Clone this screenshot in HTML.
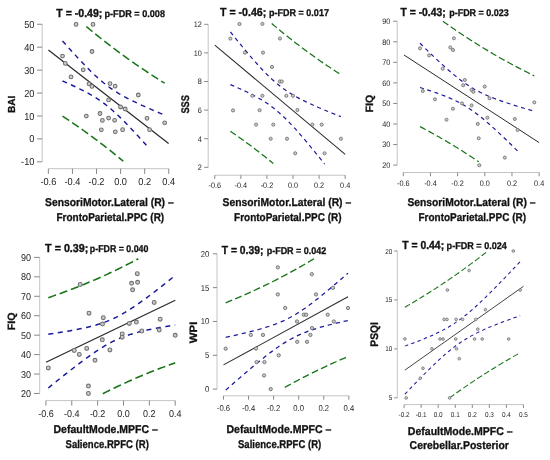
<!DOCTYPE html><html><head><meta charset="utf-8"><style>html,body{margin:0;padding:0;background:#fff;}svg{display:block;text-rendering:geometricPrecision;filter:blur(0.3px);}</style></head><body>
<svg width="550" height="460" viewBox="0 0 550 460" font-family="'Liberation Sans', Arial, sans-serif">
<rect width="550" height="460" fill="#fff"/>
<path d="M42.20 24.25 V161.83" stroke="#c4c4c4" stroke-width="1.00" fill="none"/>
<path d="M37.00 24.25 H42.20" stroke="#888888" stroke-width="1.00"/>
<text x="24.17" y="27.84" font-size="10.12" fill="#262626" textLength="10.23" lengthAdjust="spacingAndGlyphs">50</text>
<path d="M37.00 47.18 H42.20" stroke="#888888" stroke-width="1.00"/>
<text x="24.17" y="50.77" font-size="10.12" fill="#262626" textLength="10.23" lengthAdjust="spacingAndGlyphs">40</text>
<path d="M37.00 70.11 H42.20" stroke="#888888" stroke-width="1.00"/>
<text x="24.17" y="73.70" font-size="10.12" fill="#262626" textLength="10.23" lengthAdjust="spacingAndGlyphs">30</text>
<path d="M37.00 93.04 H42.20" stroke="#888888" stroke-width="1.00"/>
<text x="24.17" y="96.63" font-size="10.12" fill="#262626" textLength="10.23" lengthAdjust="spacingAndGlyphs">20</text>
<path d="M37.00 115.97 H42.20" stroke="#888888" stroke-width="1.00"/>
<text x="24.17" y="119.56" font-size="10.12" fill="#262626" textLength="10.23" lengthAdjust="spacingAndGlyphs">10</text>
<path d="M37.00 138.90 H42.20" stroke="#888888" stroke-width="1.00"/>
<text x="29.28" y="142.49" font-size="10.12" fill="#262626" textLength="5.12" lengthAdjust="spacingAndGlyphs">0</text>
<path d="M37.00 161.83 H42.20" stroke="#888888" stroke-width="1.00"/>
<text x="21.11" y="165.42" font-size="10.12" fill="#262626" textLength="13.29" lengthAdjust="spacingAndGlyphs">-10</text>
<path d="M48.36 168.70 H168.76" stroke="#c4c4c4" stroke-width="1.00" fill="none"/>
<path d="M48.36 168.70 V173.90" stroke="#888888" stroke-width="1.00"/>
<text x="40.43" y="184.80" font-size="10.12" fill="#262626" textLength="15.85" lengthAdjust="spacingAndGlyphs">-0.6</text>
<path d="M72.44 168.70 V173.90" stroke="#888888" stroke-width="1.00"/>
<text x="64.51" y="184.80" font-size="10.12" fill="#262626" textLength="15.85" lengthAdjust="spacingAndGlyphs">-0.4</text>
<path d="M96.52 168.70 V173.90" stroke="#888888" stroke-width="1.00"/>
<text x="88.59" y="184.80" font-size="10.12" fill="#262626" textLength="15.85" lengthAdjust="spacingAndGlyphs">-0.2</text>
<path d="M120.60 168.70 V173.90" stroke="#888888" stroke-width="1.00"/>
<text x="114.21" y="184.80" font-size="10.12" fill="#262626" textLength="12.79" lengthAdjust="spacingAndGlyphs">0.0</text>
<path d="M144.68 168.70 V173.90" stroke="#888888" stroke-width="1.00"/>
<text x="138.29" y="184.80" font-size="10.12" fill="#262626" textLength="12.79" lengthAdjust="spacingAndGlyphs">0.2</text>
<path d="M168.76 168.70 V173.90" stroke="#888888" stroke-width="1.00"/>
<text x="162.37" y="184.80" font-size="10.12" fill="#262626" textLength="12.79" lengthAdjust="spacingAndGlyphs">0.4</text>
<path d="M62.50 40.96 L65.06 43.83 L67.62 46.68 L70.18 49.52 L72.75 52.33 L75.31 55.13 L77.87 57.89 L80.43 60.63 L82.99 63.33 L85.55 65.98 L88.11 68.59 L90.68 71.14 L93.24 73.63 L95.80 76.04 L98.36 78.37 L100.92 80.61 L103.48 82.76 L106.04 84.80 L108.61 86.74 L111.17 88.57 L113.73 90.32 L116.29 91.97 L118.85 93.54 L121.41 95.03 L123.97 96.46 L126.54 97.84 L129.10 99.17 L131.66 100.46 L134.22 101.71 L136.78 102.93 L139.34 104.12 L141.90 105.29 L144.46 106.44 L147.03 107.58 L149.59 108.70 L152.15 109.80 L154.71 110.90 L157.27 111.98 L159.83 113.06 L162.39 114.13 L164.70 115.08" stroke="#1a1a9c" stroke-width="1.45" fill="none" stroke-dasharray="4.87 4.41"/>
<path d="M62.50 81.00 L64.62 81.93 L66.75 82.87 L68.87 83.81 L70.99 84.78 L73.11 85.75 L75.24 86.75 L77.36 87.76 L79.48 88.79 L81.61 89.84 L83.73 90.92 L85.85 92.04 L87.97 93.18 L90.10 94.37 L92.22 95.59 L94.34 96.87 L96.46 98.20 L98.59 99.59 L100.71 101.04 L102.83 102.55 L104.96 104.14 L107.08 105.79 L109.20 107.52 L111.32 109.31 L113.45 111.18 L115.57 113.10 L117.69 115.08 L119.82 117.12 L121.94 119.20 L124.06 121.32 L126.18 123.49 L128.31 125.68 L130.43 127.91 L132.55 130.16 L134.68 132.44 L136.80 134.74 L138.92 137.05 L141.04 139.38 L143.17 141.73 L145.29 144.09 L147.20 146.22" stroke="#1a1a9c" stroke-width="1.45" fill="none" stroke-dasharray="4.87 4.41"/>
<path d="M86.30 26.51 L88.26 28.15 L90.23 29.78 L92.19 31.39 L94.16 33.00 L96.12 34.59 L98.09 36.18 L100.05 37.75 L102.02 39.31 L103.98 40.85 L105.95 42.39 L107.91 43.91 L109.88 45.43 L111.84 46.93 L113.81 48.42 L115.77 49.89 L117.74 51.36 L119.70 52.81 L121.67 54.26 L123.63 55.69 L125.60 57.11 L127.56 58.52 L129.53 59.91 L131.49 61.30 L133.46 62.68 L135.42 64.04 L137.39 65.39 L139.35 66.74 L141.32 68.07 L143.28 69.39 L145.25 70.70 L147.21 72.00 L149.18 73.30 L151.14 74.58 L153.11 75.85 L155.07 77.11 L157.04 78.36 L159.00 79.60 L160.97 80.84 L162.93 82.06 L164.70 83.15" stroke="#187418" stroke-width="1.51" fill="none" stroke-dasharray="7.89 3.71"/>
<path d="M62.50 116.18 L64.02 117.18 L65.55 118.19 L67.07 119.20 L68.60 120.22 L70.12 121.24 L71.64 122.27 L73.17 123.31 L74.69 124.35 L76.21 125.40 L77.74 126.46 L79.26 127.52 L80.79 128.59 L82.31 129.67 L83.83 130.75 L85.36 131.84 L86.88 132.94 L88.40 134.04 L89.93 135.15 L91.45 136.27 L92.98 137.39 L94.50 138.52 L96.02 139.66 L97.55 140.80 L99.07 141.95 L100.60 143.11 L102.12 144.28 L103.64 145.45 L105.17 146.63 L106.69 147.82 L108.21 149.01 L109.74 150.21 L111.26 151.42 L112.79 152.63 L114.31 153.85 L115.83 155.08 L117.36 156.32 L118.88 157.56 L120.40 158.81 L121.93 160.07 L123.30 161.20" stroke="#187418" stroke-width="1.51" fill="none" stroke-dasharray="7.89 3.71"/>
<path d="M48.40 50.00 L168.60 143.60" stroke="#2a2a2a" stroke-width="1.22"/>
<circle cx="76.10" cy="24.40" r="1.88" fill="#cbcbcb" stroke="#707070" stroke-width="1.04"/>
<circle cx="93.00" cy="24.40" r="1.88" fill="#cbcbcb" stroke="#707070" stroke-width="1.04"/>
<circle cx="92.00" cy="51.50" r="1.88" fill="#cbcbcb" stroke="#707070" stroke-width="1.04"/>
<circle cx="62.50" cy="56.10" r="1.88" fill="#cbcbcb" stroke="#707070" stroke-width="1.04"/>
<circle cx="65.30" cy="63.40" r="1.88" fill="#cbcbcb" stroke="#707070" stroke-width="1.04"/>
<circle cx="83.20" cy="69.80" r="1.88" fill="#cbcbcb" stroke="#707070" stroke-width="1.04"/>
<circle cx="71.00" cy="76.90" r="1.88" fill="#cbcbcb" stroke="#707070" stroke-width="1.04"/>
<circle cx="89.00" cy="83.80" r="1.88" fill="#cbcbcb" stroke="#707070" stroke-width="1.04"/>
<circle cx="92.00" cy="86.40" r="1.88" fill="#cbcbcb" stroke="#707070" stroke-width="1.04"/>
<circle cx="110.00" cy="83.60" r="1.88" fill="#cbcbcb" stroke="#707070" stroke-width="1.04"/>
<circle cx="115.10" cy="86.20" r="1.88" fill="#cbcbcb" stroke="#707070" stroke-width="1.04"/>
<circle cx="138.30" cy="95.00" r="1.88" fill="#cbcbcb" stroke="#707070" stroke-width="1.04"/>
<circle cx="108.60" cy="99.90" r="1.88" fill="#cbcbcb" stroke="#707070" stroke-width="1.04"/>
<circle cx="120.50" cy="107.00" r="1.88" fill="#cbcbcb" stroke="#707070" stroke-width="1.04"/>
<circle cx="125.20" cy="109.00" r="1.88" fill="#cbcbcb" stroke="#707070" stroke-width="1.04"/>
<circle cx="147.00" cy="118.30" r="1.88" fill="#cbcbcb" stroke="#707070" stroke-width="1.04"/>
<circle cx="164.70" cy="122.80" r="1.88" fill="#cbcbcb" stroke="#707070" stroke-width="1.04"/>
<circle cx="86.30" cy="116.10" r="1.88" fill="#cbcbcb" stroke="#707070" stroke-width="1.04"/>
<circle cx="100.00" cy="113.50" r="1.88" fill="#cbcbcb" stroke="#707070" stroke-width="1.04"/>
<circle cx="102.40" cy="120.40" r="1.88" fill="#cbcbcb" stroke="#707070" stroke-width="1.04"/>
<circle cx="108.60" cy="118.10" r="1.88" fill="#cbcbcb" stroke="#707070" stroke-width="1.04"/>
<circle cx="114.60" cy="120.30" r="1.88" fill="#cbcbcb" stroke="#707070" stroke-width="1.04"/>
<circle cx="101.30" cy="129.80" r="1.88" fill="#cbcbcb" stroke="#707070" stroke-width="1.04"/>
<circle cx="115.30" cy="131.80" r="1.88" fill="#cbcbcb" stroke="#707070" stroke-width="1.04"/>
<circle cx="122.60" cy="129.70" r="1.88" fill="#cbcbcb" stroke="#707070" stroke-width="1.04"/>
<circle cx="149.60" cy="129.70" r="1.88" fill="#cbcbcb" stroke="#707070" stroke-width="1.04"/>
<text x="56.30" y="16.50" font-size="11.60" font-weight="bold" fill="#111" stroke="#111" stroke-width="0.35" textLength="46.10" lengthAdjust="spacingAndGlyphs">T = -0.49;</text>
<text x="104.50" y="16.50" font-size="9.80" font-weight="bold" fill="#111" stroke="#111" stroke-width="0.3" textLength="60.50" lengthAdjust="spacingAndGlyphs">p-FDR = 0.008</text>
<text transform="translate(14.90 113.00) rotate(-90)" font-size="10.20" font-weight="bold" fill="#111" stroke="#111" stroke-width="0.3" textLength="17.40" lengthAdjust="spacingAndGlyphs">BAI</text>
<text x="45.00" y="206.20" font-size="11.30" font-weight="bold" fill="#111" stroke="#111" stroke-width="0.3" textLength="128.70" lengthAdjust="spacingAndGlyphs">SensoriMotor.Lateral (R) –</text>
<text x="56.50" y="220.50" font-size="11.30" font-weight="bold" fill="#111" stroke="#111" stroke-width="0.3" textLength="107.70" lengthAdjust="spacingAndGlyphs">FrontoParietal.PPC (R)</text>
<path d="M208.20 24.30 V167.30" stroke="#c4c4c4" stroke-width="1.00" fill="none"/>
<path d="M204.20 24.30 H208.20" stroke="#888888" stroke-width="1.00"/>
<text x="193.78" y="27.15" font-size="8.03" fill="#262626" textLength="8.12" lengthAdjust="spacingAndGlyphs">12</text>
<path d="M204.20 52.90 H208.20" stroke="#888888" stroke-width="1.00"/>
<text x="193.78" y="55.75" font-size="8.03" fill="#262626" textLength="8.12" lengthAdjust="spacingAndGlyphs">10</text>
<path d="M204.20 81.50 H208.20" stroke="#888888" stroke-width="1.00"/>
<text x="197.84" y="84.35" font-size="8.03" fill="#262626" textLength="4.06" lengthAdjust="spacingAndGlyphs">8</text>
<path d="M204.20 110.10 H208.20" stroke="#888888" stroke-width="1.00"/>
<text x="197.84" y="112.95" font-size="8.03" fill="#262626" textLength="4.06" lengthAdjust="spacingAndGlyphs">6</text>
<path d="M204.20 138.70 H208.20" stroke="#888888" stroke-width="1.00"/>
<text x="197.84" y="141.55" font-size="8.03" fill="#262626" textLength="4.06" lengthAdjust="spacingAndGlyphs">4</text>
<path d="M204.20 167.30 H208.20" stroke="#888888" stroke-width="1.00"/>
<text x="197.84" y="170.15" font-size="8.03" fill="#262626" textLength="4.06" lengthAdjust="spacingAndGlyphs">2</text>
<path d="M214.76 175.20 H345.16" stroke="#c4c4c4" stroke-width="1.00" fill="none"/>
<path d="M214.76 175.20 V178.90" stroke="#888888" stroke-width="1.00"/>
<text x="208.47" y="187.60" font-size="8.03" fill="#262626" textLength="12.58" lengthAdjust="spacingAndGlyphs">-0.6</text>
<path d="M240.84 175.20 V178.90" stroke="#888888" stroke-width="1.00"/>
<text x="234.55" y="187.60" font-size="8.03" fill="#262626" textLength="12.58" lengthAdjust="spacingAndGlyphs">-0.4</text>
<path d="M266.92 175.20 V178.90" stroke="#888888" stroke-width="1.00"/>
<text x="260.63" y="187.60" font-size="8.03" fill="#262626" textLength="12.58" lengthAdjust="spacingAndGlyphs">-0.2</text>
<path d="M293.00 175.20 V178.90" stroke="#888888" stroke-width="1.00"/>
<text x="287.93" y="187.60" font-size="8.03" fill="#262626" textLength="10.15" lengthAdjust="spacingAndGlyphs">0.0</text>
<path d="M319.08 175.20 V178.90" stroke="#888888" stroke-width="1.00"/>
<text x="314.01" y="187.60" font-size="8.03" fill="#262626" textLength="10.15" lengthAdjust="spacingAndGlyphs">0.2</text>
<path d="M345.16 175.20 V178.90" stroke="#888888" stroke-width="1.00"/>
<text x="340.09" y="187.60" font-size="8.03" fill="#262626" textLength="10.15" lengthAdjust="spacingAndGlyphs">0.4</text>
<path d="M230.40 31.85 L233.17 35.32 L235.94 38.76 L238.71 42.18 L241.48 45.58 L244.25 48.94 L247.02 52.26 L249.79 55.54 L252.56 58.77 L255.32 61.94 L258.09 65.05 L260.86 68.08 L263.63 71.02 L266.40 73.86 L269.17 76.60 L271.94 79.21 L274.71 81.69 L277.48 84.04 L280.25 86.26 L283.02 88.35 L285.79 90.31 L288.56 92.15 L291.33 93.89 L294.10 95.54 L296.87 97.11 L299.64 98.60 L302.41 100.03 L305.17 101.41 L307.94 102.74 L310.71 104.03 L313.48 105.29 L316.25 106.52 L319.02 107.72 L321.79 108.90 L324.56 110.05 L327.33 111.20 L330.10 112.32 L332.87 113.44 L335.64 114.54 L338.41 115.63 L340.90 116.60" stroke="#1a1a9c" stroke-width="1.21" fill="none" stroke-dasharray="4.07 3.69"/>
<path d="M230.40 84.65 L232.76 85.65 L235.12 86.66 L237.48 87.68 L239.84 88.73 L242.20 89.80 L244.57 90.89 L246.93 92.01 L249.29 93.15 L251.65 94.34 L254.01 95.56 L256.37 96.83 L258.73 98.16 L261.09 99.53 L263.45 100.98 L265.81 102.49 L268.17 104.09 L270.54 105.76 L272.90 107.53 L275.26 109.40 L277.62 111.36 L279.98 113.42 L282.34 115.57 L284.70 117.81 L287.06 120.15 L289.42 122.56 L291.78 125.05 L294.14 127.60 L296.51 130.21 L298.87 132.88 L301.23 135.59 L303.59 138.34 L305.95 141.14 L308.31 143.96 L310.67 146.81 L313.03 149.69 L315.39 152.59 L317.75 155.50 L320.11 158.44 L322.48 161.39 L324.60 164.06" stroke="#1a1a9c" stroke-width="1.21" fill="none" stroke-dasharray="4.07 3.69"/>
<path d="M271.70 23.44 L273.43 24.92 L275.17 26.38 L276.90 27.84 L278.64 29.28 L280.37 30.72 L282.11 32.14 L283.84 33.56 L285.57 34.96 L287.31 36.35 L289.04 37.74 L290.78 39.11 L292.51 40.47 L294.25 41.83 L295.98 43.17 L297.72 44.50 L299.45 45.83 L301.18 47.14 L302.92 48.44 L304.65 49.73 L306.39 51.02 L308.12 52.29 L309.86 53.56 L311.59 54.81 L313.32 56.06 L315.06 57.29 L316.79 58.52 L318.53 59.73 L320.26 60.94 L322.00 62.14 L323.73 63.33 L325.46 64.51 L327.20 65.69 L328.93 66.85 L330.67 68.01 L332.40 69.15 L334.14 70.29 L335.87 71.42 L337.60 72.54 L339.34 73.66 L340.90 74.65" stroke="#187418" stroke-width="1.26" fill="none" stroke-dasharray="6.60 3.10"/>
<path d="M230.40 131.17 L231.48 131.91 L232.55 132.65 L233.63 133.40 L234.70 134.15 L235.78 134.90 L236.85 135.66 L237.93 136.42 L239.00 137.18 L240.08 137.95 L241.15 138.72 L242.23 139.49 L243.30 140.27 L244.38 141.05 L245.45 141.83 L246.53 142.62 L247.60 143.41 L248.68 144.21 L249.75 145.01 L250.83 145.81 L251.90 146.62 L252.98 147.43 L254.05 148.25 L255.13 149.06 L256.20 149.89 L257.28 150.71 L258.35 151.54 L259.43 152.38 L260.51 153.21 L261.58 154.06 L262.66 154.90 L263.73 155.75 L264.81 156.61 L265.88 157.46 L266.96 158.32 L268.03 159.19 L269.11 160.06 L270.18 160.93 L271.26 161.81 L272.33 162.69 L273.30 163.49" stroke="#187418" stroke-width="1.26" fill="none" stroke-dasharray="6.60 3.10"/>
<path d="M214.80 45.20 L345.20 154.30" stroke="#2a2a2a" stroke-width="1.02"/>
<circle cx="239.50" cy="24.00" r="1.57" fill="#cbcbcb" stroke="#707070" stroke-width="0.87"/>
<circle cx="262.40" cy="23.90" r="1.57" fill="#cbcbcb" stroke="#707070" stroke-width="0.87"/>
<circle cx="230.40" cy="38.60" r="1.57" fill="#cbcbcb" stroke="#707070" stroke-width="0.87"/>
<circle cx="280.00" cy="38.50" r="1.57" fill="#cbcbcb" stroke="#707070" stroke-width="0.87"/>
<circle cx="244.90" cy="52.70" r="1.57" fill="#cbcbcb" stroke="#707070" stroke-width="0.87"/>
<circle cx="263.00" cy="52.60" r="1.57" fill="#cbcbcb" stroke="#707070" stroke-width="0.87"/>
<circle cx="272.00" cy="67.00" r="1.57" fill="#cbcbcb" stroke="#707070" stroke-width="0.87"/>
<circle cx="279.80" cy="81.50" r="1.57" fill="#cbcbcb" stroke="#707070" stroke-width="0.87"/>
<circle cx="281.80" cy="81.50" r="1.57" fill="#cbcbcb" stroke="#707070" stroke-width="0.87"/>
<circle cx="252.40" cy="95.80" r="1.57" fill="#cbcbcb" stroke="#707070" stroke-width="0.87"/>
<circle cx="262.40" cy="95.80" r="1.57" fill="#cbcbcb" stroke="#707070" stroke-width="0.87"/>
<circle cx="286.30" cy="95.80" r="1.57" fill="#cbcbcb" stroke="#707070" stroke-width="0.87"/>
<circle cx="293.00" cy="95.80" r="1.57" fill="#cbcbcb" stroke="#707070" stroke-width="0.87"/>
<circle cx="233.00" cy="110.40" r="1.57" fill="#cbcbcb" stroke="#707070" stroke-width="0.87"/>
<circle cx="259.60" cy="110.20" r="1.57" fill="#cbcbcb" stroke="#707070" stroke-width="0.87"/>
<circle cx="297.40" cy="110.00" r="1.57" fill="#cbcbcb" stroke="#707070" stroke-width="0.87"/>
<circle cx="256.10" cy="124.60" r="1.57" fill="#cbcbcb" stroke="#707070" stroke-width="0.87"/>
<circle cx="273.30" cy="124.60" r="1.57" fill="#cbcbcb" stroke="#707070" stroke-width="0.87"/>
<circle cx="312.40" cy="124.60" r="1.57" fill="#cbcbcb" stroke="#707070" stroke-width="0.87"/>
<circle cx="321.70" cy="124.60" r="1.57" fill="#cbcbcb" stroke="#707070" stroke-width="0.87"/>
<circle cx="270.70" cy="138.70" r="1.57" fill="#cbcbcb" stroke="#707070" stroke-width="0.87"/>
<circle cx="287.00" cy="138.70" r="1.57" fill="#cbcbcb" stroke="#707070" stroke-width="0.87"/>
<circle cx="340.90" cy="138.70" r="1.57" fill="#cbcbcb" stroke="#707070" stroke-width="0.87"/>
<circle cx="295.20" cy="153.30" r="1.57" fill="#cbcbcb" stroke="#707070" stroke-width="0.87"/>
<circle cx="324.60" cy="153.30" r="1.57" fill="#cbcbcb" stroke="#707070" stroke-width="0.87"/>
<text x="220.00" y="15.70" font-size="11.60" font-weight="bold" fill="#111" stroke="#111" stroke-width="0.35" textLength="46.30" lengthAdjust="spacingAndGlyphs">T = -0.46;</text>
<text x="269.10" y="15.70" font-size="9.80" font-weight="bold" fill="#111" stroke="#111" stroke-width="0.3" textLength="59.80" lengthAdjust="spacingAndGlyphs">p-FDR = 0.017</text>
<text transform="translate(188.70 113.60) rotate(-90)" font-size="11.00" font-weight="bold" fill="#111" stroke="#111" stroke-width="0.3" textLength="18.50" lengthAdjust="spacingAndGlyphs">SSS</text>
<text x="222.60" y="206.00" font-size="11.30" font-weight="bold" fill="#111" stroke="#111" stroke-width="0.3" textLength="128.60" lengthAdjust="spacingAndGlyphs">SensoriMotor.Lateral (R) –</text>
<text x="234.10" y="220.50" font-size="11.30" font-weight="bold" fill="#111" stroke="#111" stroke-width="0.3" textLength="107.40" lengthAdjust="spacingAndGlyphs">FrontoParietal.PPC (R)</text>
<path d="M397.20 21.20 V165.12" stroke="#c4c4c4" stroke-width="1.00" fill="none"/>
<path d="M393.20 21.20 H397.20" stroke="#888888" stroke-width="1.00"/>
<text x="382.28" y="24.05" font-size="8.03" fill="#262626" textLength="8.12" lengthAdjust="spacingAndGlyphs">90</text>
<path d="M393.20 41.76 H397.20" stroke="#888888" stroke-width="1.00"/>
<text x="382.28" y="44.61" font-size="8.03" fill="#262626" textLength="8.12" lengthAdjust="spacingAndGlyphs">80</text>
<path d="M393.20 62.32 H397.20" stroke="#888888" stroke-width="1.00"/>
<text x="382.28" y="65.17" font-size="8.03" fill="#262626" textLength="8.12" lengthAdjust="spacingAndGlyphs">70</text>
<path d="M393.20 82.88 H397.20" stroke="#888888" stroke-width="1.00"/>
<text x="382.28" y="85.73" font-size="8.03" fill="#262626" textLength="8.12" lengthAdjust="spacingAndGlyphs">60</text>
<path d="M393.20 103.44 H397.20" stroke="#888888" stroke-width="1.00"/>
<text x="382.28" y="106.29" font-size="8.03" fill="#262626" textLength="8.12" lengthAdjust="spacingAndGlyphs">50</text>
<path d="M393.20 124.00 H397.20" stroke="#888888" stroke-width="1.00"/>
<text x="382.28" y="126.85" font-size="8.03" fill="#262626" textLength="8.12" lengthAdjust="spacingAndGlyphs">40</text>
<path d="M393.20 144.56 H397.20" stroke="#888888" stroke-width="1.00"/>
<text x="382.28" y="147.41" font-size="8.03" fill="#262626" textLength="8.12" lengthAdjust="spacingAndGlyphs">30</text>
<path d="M393.20 165.12 H397.20" stroke="#888888" stroke-width="1.00"/>
<text x="382.28" y="167.97" font-size="8.03" fill="#262626" textLength="8.12" lengthAdjust="spacingAndGlyphs">20</text>
<path d="M403.32 172.50 H539.12" stroke="#c4c4c4" stroke-width="1.00" fill="none"/>
<path d="M403.32 172.50 V176.20" stroke="#888888" stroke-width="1.00"/>
<text x="397.03" y="185.50" font-size="8.03" fill="#262626" textLength="12.58" lengthAdjust="spacingAndGlyphs">-0.6</text>
<path d="M430.48 172.50 V176.20" stroke="#888888" stroke-width="1.00"/>
<text x="424.19" y="185.50" font-size="8.03" fill="#262626" textLength="12.58" lengthAdjust="spacingAndGlyphs">-0.4</text>
<path d="M457.64 172.50 V176.20" stroke="#888888" stroke-width="1.00"/>
<text x="451.35" y="185.50" font-size="8.03" fill="#262626" textLength="12.58" lengthAdjust="spacingAndGlyphs">-0.2</text>
<path d="M484.80 172.50 V176.20" stroke="#888888" stroke-width="1.00"/>
<text x="479.73" y="185.50" font-size="8.03" fill="#262626" textLength="10.15" lengthAdjust="spacingAndGlyphs">0.0</text>
<path d="M511.96 172.50 V176.20" stroke="#888888" stroke-width="1.00"/>
<text x="506.89" y="185.50" font-size="8.03" fill="#262626" textLength="10.15" lengthAdjust="spacingAndGlyphs">0.2</text>
<path d="M539.12 172.50 V176.20" stroke="#888888" stroke-width="1.00"/>
<text x="534.05" y="185.50" font-size="8.03" fill="#262626" textLength="10.15" lengthAdjust="spacingAndGlyphs">0.4</text>
<path d="M420.00 43.23 L422.86 46.05 L425.73 48.86 L428.59 51.64 L431.46 54.41 L434.32 57.15 L437.19 59.86 L440.05 62.53 L442.92 65.17 L445.78 67.76 L448.65 70.29 L451.51 72.76 L454.38 75.16 L457.24 77.48 L460.11 79.71 L462.97 81.83 L465.83 83.85 L468.70 85.76 L471.56 87.55 L474.43 89.24 L477.29 90.81 L480.16 92.29 L483.02 93.68 L485.89 94.98 L488.75 96.22 L491.62 97.39 L494.48 98.51 L497.35 99.59 L500.21 100.62 L503.08 101.62 L505.94 102.59 L508.80 103.54 L511.67 104.47 L514.53 105.37 L517.40 106.26 L520.26 107.14 L523.13 108.00 L525.99 108.85 L528.86 109.69 L531.72 110.53 L534.30 111.27" stroke="#1a1a9c" stroke-width="1.19" fill="none" stroke-dasharray="3.99 3.61"/>
<path d="M420.00 87.52 L422.45 88.28 L424.89 89.06 L427.34 89.84 L429.78 90.64 L432.23 91.46 L434.68 92.30 L437.12 93.16 L439.57 94.04 L442.02 94.96 L444.46 95.90 L446.91 96.88 L449.35 97.91 L451.80 98.98 L454.25 100.10 L456.69 101.29 L459.14 102.54 L461.58 103.86 L464.03 105.25 L466.48 106.73 L468.92 108.29 L471.37 109.93 L473.81 111.65 L476.26 113.45 L478.71 115.33 L481.15 117.27 L483.60 119.28 L486.05 121.35 L488.49 123.46 L490.94 125.62 L493.38 127.83 L495.83 130.06 L498.28 132.33 L500.72 134.63 L503.17 136.95 L505.61 139.29 L508.06 141.65 L510.51 144.03 L512.95 146.42 L515.40 148.82 L517.60 150.99" stroke="#1a1a9c" stroke-width="1.19" fill="none" stroke-dasharray="3.99 3.61"/>
<path d="M443.00 21.27 L445.29 22.90 L447.58 24.52 L449.86 26.13 L452.15 27.72 L454.44 29.29 L456.73 30.85 L459.02 32.40 L461.31 33.94 L463.59 35.46 L465.88 36.96 L468.17 38.46 L470.46 39.94 L472.75 41.40 L475.04 42.85 L477.32 44.29 L479.61 45.71 L481.90 47.12 L484.19 48.52 L486.48 49.90 L488.76 51.27 L491.05 52.62 L493.34 53.96 L495.63 55.29 L497.92 56.61 L500.21 57.91 L502.49 59.19 L504.78 60.47 L507.07 61.73 L509.36 62.98 L511.65 64.22 L513.93 65.44 L516.22 66.66 L518.51 67.86 L520.80 69.05 L523.09 70.22 L525.38 71.39 L527.66 72.54 L529.95 73.69 L532.24 74.82 L534.30 75.83" stroke="#187418" stroke-width="1.23" fill="none" stroke-dasharray="6.46 3.04"/>
<path d="M420.00 126.59 L421.47 127.36 L422.95 128.14 L424.42 128.93 L425.89 129.72 L427.37 130.52 L428.84 131.32 L430.32 132.13 L431.79 132.94 L433.26 133.76 L434.74 134.58 L436.21 135.41 L437.68 136.25 L439.16 137.09 L440.63 137.93 L442.11 138.78 L443.58 139.64 L445.05 140.50 L446.53 141.37 L448.00 142.24 L449.47 143.12 L450.95 144.00 L452.42 144.89 L453.89 145.79 L455.37 146.69 L456.84 147.60 L458.32 148.51 L459.79 149.43 L461.26 150.35 L462.74 151.28 L464.21 152.22 L465.68 153.16 L467.16 154.11 L468.63 155.06 L470.11 156.02 L471.58 156.98 L473.05 157.95 L474.53 158.93 L476.00 159.91 L477.47 160.90 L478.80 161.79" stroke="#187418" stroke-width="1.23" fill="none" stroke-dasharray="6.46 3.04"/>
<path d="M404.00 55.00 L539.10 142.60" stroke="#2a2a2a" stroke-width="1.00"/>
<circle cx="420.00" cy="48.30" r="1.54" fill="#cbcbcb" stroke="#707070" stroke-width="0.85"/>
<circle cx="429.10" cy="55.40" r="1.54" fill="#cbcbcb" stroke="#707070" stroke-width="0.85"/>
<circle cx="453.90" cy="38.30" r="1.54" fill="#cbcbcb" stroke="#707070" stroke-width="0.85"/>
<circle cx="450.30" cy="47.40" r="1.54" fill="#cbcbcb" stroke="#707070" stroke-width="0.85"/>
<circle cx="453.00" cy="50.00" r="1.54" fill="#cbcbcb" stroke="#707070" stroke-width="0.85"/>
<circle cx="442.70" cy="68.70" r="1.54" fill="#cbcbcb" stroke="#707070" stroke-width="0.85"/>
<circle cx="464.80" cy="80.00" r="1.54" fill="#cbcbcb" stroke="#707070" stroke-width="0.85"/>
<circle cx="463.20" cy="85.20" r="1.54" fill="#cbcbcb" stroke="#707070" stroke-width="0.85"/>
<circle cx="471.60" cy="89.90" r="1.54" fill="#cbcbcb" stroke="#707070" stroke-width="0.85"/>
<circle cx="473.40" cy="91.80" r="1.54" fill="#cbcbcb" stroke="#707070" stroke-width="0.85"/>
<circle cx="484.70" cy="86.60" r="1.54" fill="#cbcbcb" stroke="#707070" stroke-width="0.85"/>
<circle cx="489.50" cy="98.30" r="1.54" fill="#cbcbcb" stroke="#707070" stroke-width="0.85"/>
<circle cx="534.30" cy="102.40" r="1.54" fill="#cbcbcb" stroke="#707070" stroke-width="0.85"/>
<circle cx="487.40" cy="117.70" r="1.54" fill="#cbcbcb" stroke="#707070" stroke-width="0.85"/>
<circle cx="514.80" cy="119.00" r="1.54" fill="#cbcbcb" stroke="#707070" stroke-width="0.85"/>
<circle cx="422.80" cy="91.00" r="1.54" fill="#cbcbcb" stroke="#707070" stroke-width="0.85"/>
<circle cx="435.00" cy="99.30" r="1.54" fill="#cbcbcb" stroke="#707070" stroke-width="0.85"/>
<circle cx="462.00" cy="103.40" r="1.54" fill="#cbcbcb" stroke="#707070" stroke-width="0.85"/>
<circle cx="471.60" cy="105.40" r="1.54" fill="#cbcbcb" stroke="#707070" stroke-width="0.85"/>
<circle cx="452.90" cy="108.70" r="1.54" fill="#cbcbcb" stroke="#707070" stroke-width="0.85"/>
<circle cx="446.50" cy="119.70" r="1.54" fill="#cbcbcb" stroke="#707070" stroke-width="0.85"/>
<circle cx="477.80" cy="123.90" r="1.54" fill="#cbcbcb" stroke="#707070" stroke-width="0.85"/>
<circle cx="517.60" cy="130.00" r="1.54" fill="#cbcbcb" stroke="#707070" stroke-width="0.85"/>
<circle cx="478.70" cy="138.30" r="1.54" fill="#cbcbcb" stroke="#707070" stroke-width="0.85"/>
<circle cx="504.80" cy="157.60" r="1.54" fill="#cbcbcb" stroke="#707070" stroke-width="0.85"/>
<circle cx="479.30" cy="165.20" r="1.54" fill="#cbcbcb" stroke="#707070" stroke-width="0.85"/>
<text x="400.50" y="15.50" font-size="11.60" font-weight="bold" fill="#111" stroke="#111" stroke-width="0.35" textLength="45.20" lengthAdjust="spacingAndGlyphs">T = -0.43;</text>
<text x="449.20" y="15.50" font-size="9.80" font-weight="bold" fill="#111" stroke="#111" stroke-width="0.3" textLength="59.60" lengthAdjust="spacingAndGlyphs">p-FDR = 0.023</text>
<text transform="translate(372.80 112.40) rotate(-90)" font-size="10.60" font-weight="bold" fill="#111" stroke="#111" stroke-width="0.3" textLength="17.70" lengthAdjust="spacingAndGlyphs">FIQ</text>
<text x="407.40" y="206.20" font-size="11.30" font-weight="bold" fill="#111" stroke="#111" stroke-width="0.3" textLength="128.10" lengthAdjust="spacingAndGlyphs">SensoriMotor.Lateral (R) –</text>
<text x="418.50" y="221.00" font-size="11.30" font-weight="bold" fill="#111" stroke="#111" stroke-width="0.3" textLength="107.50" lengthAdjust="spacingAndGlyphs">FrontoParietal.PPC (R)</text>
<path d="M39.70 257.40 V393.48" stroke="#c4c4c4" stroke-width="1.00" fill="none"/>
<path d="M34.00 257.40 H39.70" stroke="#888888" stroke-width="1.00"/>
<text x="20.99" y="260.91" font-size="9.90" fill="#262626" textLength="10.01" lengthAdjust="spacingAndGlyphs">90</text>
<path d="M34.00 276.84 H39.70" stroke="#888888" stroke-width="1.00"/>
<text x="20.99" y="280.35" font-size="9.90" fill="#262626" textLength="10.01" lengthAdjust="spacingAndGlyphs">80</text>
<path d="M34.00 296.28 H39.70" stroke="#888888" stroke-width="1.00"/>
<text x="20.99" y="299.79" font-size="9.90" fill="#262626" textLength="10.01" lengthAdjust="spacingAndGlyphs">70</text>
<path d="M34.00 315.72 H39.70" stroke="#888888" stroke-width="1.00"/>
<text x="20.99" y="319.23" font-size="9.90" fill="#262626" textLength="10.01" lengthAdjust="spacingAndGlyphs">60</text>
<path d="M34.00 335.16 H39.70" stroke="#888888" stroke-width="1.00"/>
<text x="20.99" y="338.67" font-size="9.90" fill="#262626" textLength="10.01" lengthAdjust="spacingAndGlyphs">50</text>
<path d="M34.00 354.60 H39.70" stroke="#888888" stroke-width="1.00"/>
<text x="20.99" y="358.11" font-size="9.90" fill="#262626" textLength="10.01" lengthAdjust="spacingAndGlyphs">40</text>
<path d="M34.00 374.04 H39.70" stroke="#888888" stroke-width="1.00"/>
<text x="20.99" y="377.55" font-size="9.90" fill="#262626" textLength="10.01" lengthAdjust="spacingAndGlyphs">30</text>
<path d="M34.00 393.48 H39.70" stroke="#888888" stroke-width="1.00"/>
<text x="20.99" y="396.99" font-size="9.90" fill="#262626" textLength="10.01" lengthAdjust="spacingAndGlyphs">20</text>
<path d="M45.92 400.60 H175.22" stroke="#c4c4c4" stroke-width="1.00" fill="none"/>
<path d="M45.92 400.60 V405.60" stroke="#888888" stroke-width="1.00"/>
<text x="38.17" y="416.50" font-size="9.90" fill="#262626" textLength="15.51" lengthAdjust="spacingAndGlyphs">-0.6</text>
<path d="M71.78 400.60 V405.60" stroke="#888888" stroke-width="1.00"/>
<text x="64.03" y="416.50" font-size="9.90" fill="#262626" textLength="15.51" lengthAdjust="spacingAndGlyphs">-0.4</text>
<path d="M97.64 400.60 V405.60" stroke="#888888" stroke-width="1.00"/>
<text x="89.89" y="416.50" font-size="9.90" fill="#262626" textLength="15.51" lengthAdjust="spacingAndGlyphs">-0.2</text>
<path d="M123.50 400.60 V405.60" stroke="#888888" stroke-width="1.00"/>
<text x="117.25" y="416.50" font-size="9.90" fill="#262626" textLength="12.51" lengthAdjust="spacingAndGlyphs">0.0</text>
<path d="M149.36 400.60 V405.60" stroke="#888888" stroke-width="1.00"/>
<text x="143.11" y="416.50" font-size="9.90" fill="#262626" textLength="12.51" lengthAdjust="spacingAndGlyphs">0.2</text>
<path d="M175.22 400.60 V405.60" stroke="#888888" stroke-width="1.00"/>
<text x="168.97" y="416.50" font-size="9.90" fill="#262626" textLength="12.51" lengthAdjust="spacingAndGlyphs">0.4</text>
<path d="M48.30 334.23 L51.48 333.75 L54.66 333.27 L57.84 332.78 L61.02 332.27 L64.20 331.75 L67.38 331.21 L70.56 330.66 L73.74 330.08 L76.92 329.47 L80.10 328.84 L83.28 328.16 L86.47 327.45 L89.65 326.69 L92.83 325.88 L96.01 325.00 L99.19 324.04 L102.37 323.00 L105.55 321.87 L108.73 320.63 L111.91 319.27 L115.09 317.80 L118.27 316.21 L121.45 314.50 L124.63 312.68 L127.81 310.75 L130.99 308.73 L134.17 306.62 L137.35 304.44 L140.53 302.20 L143.71 299.91 L146.89 297.56 L150.07 295.18 L153.25 292.76 L156.44 290.31 L159.62 287.84 L162.80 285.34 L165.98 282.83 L169.16 280.30 L172.34 277.75 L175.20 275.45" stroke="#1a1a9c" stroke-width="1.50" fill="none" stroke-dasharray="5.04 4.56"/>
<path d="M48.30 387.97 L51.48 385.39 L54.66 382.82 L57.84 380.26 L61.02 377.72 L64.20 375.19 L67.38 372.68 L70.56 370.19 L73.74 367.72 L76.92 365.27 L80.10 362.86 L83.28 360.48 L86.47 358.14 L89.65 355.85 L92.83 353.61 L96.01 351.44 L99.19 349.35 L102.37 347.34 L105.55 345.42 L108.73 343.61 L111.91 341.92 L115.09 340.34 L118.27 338.88 L121.45 337.54 L124.63 336.32 L127.81 335.19 L130.99 334.16 L134.17 333.22 L137.35 332.35 L140.53 331.54 L143.71 330.79 L146.89 330.08 L150.07 329.41 L153.25 328.78 L156.44 328.18 L159.62 327.60 L162.80 327.05 L165.98 326.51 L169.16 325.99 L172.34 325.49 L175.20 325.04" stroke="#1a1a9c" stroke-width="1.50" fill="none" stroke-dasharray="5.04 4.56"/>
<path d="M48.30 297.67 L50.56 296.90 L52.81 296.12 L55.07 295.33 L57.32 294.54 L59.58 293.73 L61.83 292.91 L64.09 292.09 L66.35 291.25 L68.60 290.40 L70.86 289.55 L73.11 288.68 L75.37 287.80 L77.62 286.91 L79.88 286.01 L82.13 285.10 L84.39 284.18 L86.65 283.25 L88.90 282.31 L91.16 281.35 L93.41 280.39 L95.67 279.41 L97.92 278.42 L100.18 277.42 L102.44 276.41 L104.69 275.39 L106.95 274.35 L109.20 273.31 L111.46 272.25 L113.71 271.18 L115.97 270.10 L118.22 269.00 L120.48 267.90 L122.74 266.78 L124.99 265.65 L127.25 264.51 L129.50 263.36 L131.76 262.20 L134.01 261.03 L136.27 259.84 L138.30 258.77" stroke="#187418" stroke-width="1.56" fill="none" stroke-dasharray="8.16 3.84"/>
<path d="M102.80 393.68 L104.61 392.77 L106.43 391.86 L108.24 390.96 L110.06 390.06 L111.87 389.18 L113.69 388.30 L115.50 387.43 L117.32 386.56 L119.13 385.71 L120.95 384.86 L122.76 384.02 L124.57 383.18 L126.39 382.36 L128.20 381.54 L130.02 380.73 L131.83 379.92 L133.65 379.13 L135.46 378.34 L137.28 377.56 L139.09 376.78 L140.91 376.01 L142.72 375.25 L144.53 374.50 L146.35 373.76 L148.16 373.02 L149.98 372.29 L151.79 371.56 L153.61 370.85 L155.42 370.14 L157.24 369.43 L159.05 368.74 L160.87 368.05 L162.68 367.36 L164.49 366.69 L166.31 366.02 L168.12 365.35 L169.94 364.70 L171.75 364.05 L173.57 363.40 L175.20 362.83" stroke="#187418" stroke-width="1.56" fill="none" stroke-dasharray="8.16 3.84"/>
<path d="M46.00 362.20 L175.30 300.20" stroke="#2a2a2a" stroke-width="1.26"/>
<circle cx="80.20" cy="284.50" r="1.94" fill="#cbcbcb" stroke="#707070" stroke-width="1.08"/>
<circle cx="137.30" cy="273.70" r="1.94" fill="#cbcbcb" stroke="#707070" stroke-width="1.08"/>
<circle cx="131.60" cy="283.30" r="1.94" fill="#cbcbcb" stroke="#707070" stroke-width="1.08"/>
<circle cx="137.60" cy="282.30" r="1.94" fill="#cbcbcb" stroke="#707070" stroke-width="1.08"/>
<circle cx="132.60" cy="289.80" r="1.94" fill="#cbcbcb" stroke="#707070" stroke-width="1.08"/>
<circle cx="154.20" cy="302.40" r="1.94" fill="#cbcbcb" stroke="#707070" stroke-width="1.08"/>
<circle cx="89.00" cy="313.20" r="1.94" fill="#cbcbcb" stroke="#707070" stroke-width="1.08"/>
<circle cx="103.30" cy="317.70" r="1.94" fill="#cbcbcb" stroke="#707070" stroke-width="1.08"/>
<circle cx="102.50" cy="324.10" r="1.94" fill="#cbcbcb" stroke="#707070" stroke-width="1.08"/>
<circle cx="160.20" cy="319.20" r="1.94" fill="#cbcbcb" stroke="#707070" stroke-width="1.08"/>
<circle cx="129.30" cy="323.40" r="1.94" fill="#cbcbcb" stroke="#707070" stroke-width="1.08"/>
<circle cx="136.40" cy="322.10" r="1.94" fill="#cbcbcb" stroke="#707070" stroke-width="1.08"/>
<circle cx="141.80" cy="331.00" r="1.94" fill="#cbcbcb" stroke="#707070" stroke-width="1.08"/>
<circle cx="159.20" cy="330.10" r="1.94" fill="#cbcbcb" stroke="#707070" stroke-width="1.08"/>
<circle cx="122.20" cy="333.90" r="1.94" fill="#cbcbcb" stroke="#707070" stroke-width="1.08"/>
<circle cx="122.20" cy="337.20" r="1.94" fill="#cbcbcb" stroke="#707070" stroke-width="1.08"/>
<circle cx="175.20" cy="335.30" r="1.94" fill="#cbcbcb" stroke="#707070" stroke-width="1.08"/>
<circle cx="102.30" cy="339.80" r="1.94" fill="#cbcbcb" stroke="#707070" stroke-width="1.08"/>
<circle cx="74.20" cy="350.50" r="1.94" fill="#cbcbcb" stroke="#707070" stroke-width="1.08"/>
<circle cx="79.30" cy="354.40" r="1.94" fill="#cbcbcb" stroke="#707070" stroke-width="1.08"/>
<circle cx="86.70" cy="348.40" r="1.94" fill="#cbcbcb" stroke="#707070" stroke-width="1.08"/>
<circle cx="109.90" cy="349.90" r="1.94" fill="#cbcbcb" stroke="#707070" stroke-width="1.08"/>
<circle cx="95.00" cy="360.30" r="1.94" fill="#cbcbcb" stroke="#707070" stroke-width="1.08"/>
<circle cx="88.40" cy="386.10" r="1.94" fill="#cbcbcb" stroke="#707070" stroke-width="1.08"/>
<circle cx="88.40" cy="393.50" r="1.94" fill="#cbcbcb" stroke="#707070" stroke-width="1.08"/>
<circle cx="48.30" cy="367.90" r="1.94" fill="#cbcbcb" stroke="#707070" stroke-width="1.08"/>
<text x="45.10" y="251.70" font-size="11.60" font-weight="bold" fill="#111" stroke="#111" stroke-width="0.35" textLength="43.30" lengthAdjust="spacingAndGlyphs">T = 0.39;</text>
<text x="89.80" y="251.70" font-size="9.80" font-weight="bold" fill="#111" stroke="#111" stroke-width="0.3" textLength="58.60" lengthAdjust="spacingAndGlyphs">p-FDR = 0.040</text>
<text transform="translate(14.70 330.20) rotate(-90)" font-size="10.60" font-weight="bold" fill="#111" stroke="#111" stroke-width="0.3" textLength="17.60" lengthAdjust="spacingAndGlyphs">FIQ</text>
<text x="53.50" y="433.10" font-size="11.30" font-weight="bold" fill="#111" stroke="#111" stroke-width="0.3" textLength="104.30" lengthAdjust="spacingAndGlyphs">DefaultMode.MPFC –</text>
<text x="65.50" y="448.30" font-size="11.30" font-weight="bold" fill="#111" stroke="#111" stroke-width="0.3" textLength="83.40" lengthAdjust="spacingAndGlyphs">Salience.RPFC (R)</text>
<path d="M217.00 253.80 V389.14" stroke="#c4c4c4" stroke-width="1.00" fill="none"/>
<path d="M212.90 253.80 H217.00" stroke="#888888" stroke-width="1.00"/>
<text x="200.64" y="256.81" font-size="8.47" fill="#262626" textLength="8.56" lengthAdjust="spacingAndGlyphs">20</text>
<path d="M212.90 287.63 H217.00" stroke="#888888" stroke-width="1.00"/>
<text x="200.64" y="290.64" font-size="8.47" fill="#262626" textLength="8.56" lengthAdjust="spacingAndGlyphs">15</text>
<path d="M212.90 321.47 H217.00" stroke="#888888" stroke-width="1.00"/>
<text x="200.64" y="324.48" font-size="8.47" fill="#262626" textLength="8.56" lengthAdjust="spacingAndGlyphs">10</text>
<path d="M212.90 355.31 H217.00" stroke="#888888" stroke-width="1.00"/>
<text x="204.92" y="358.31" font-size="8.47" fill="#262626" textLength="4.28" lengthAdjust="spacingAndGlyphs">5</text>
<path d="M212.90 389.14 H217.00" stroke="#888888" stroke-width="1.00"/>
<text x="204.92" y="392.15" font-size="8.47" fill="#262626" textLength="4.28" lengthAdjust="spacingAndGlyphs">0</text>
<path d="M223.46 395.80 H348.86" stroke="#c4c4c4" stroke-width="1.00" fill="none"/>
<path d="M223.46 395.80 V399.70" stroke="#888888" stroke-width="1.00"/>
<text x="216.83" y="410.90" font-size="8.47" fill="#262626" textLength="13.27" lengthAdjust="spacingAndGlyphs">-0.6</text>
<path d="M248.54 395.80 V399.70" stroke="#888888" stroke-width="1.00"/>
<text x="241.91" y="410.90" font-size="8.47" fill="#262626" textLength="13.27" lengthAdjust="spacingAndGlyphs">-0.4</text>
<path d="M273.62 395.80 V399.70" stroke="#888888" stroke-width="1.00"/>
<text x="266.99" y="410.90" font-size="8.47" fill="#262626" textLength="13.27" lengthAdjust="spacingAndGlyphs">-0.2</text>
<path d="M298.70 395.80 V399.70" stroke="#888888" stroke-width="1.00"/>
<text x="293.35" y="410.90" font-size="8.47" fill="#262626" textLength="10.70" lengthAdjust="spacingAndGlyphs">0.0</text>
<path d="M323.78 395.80 V399.70" stroke="#888888" stroke-width="1.00"/>
<text x="318.43" y="410.90" font-size="8.47" fill="#262626" textLength="10.70" lengthAdjust="spacingAndGlyphs">0.2</text>
<path d="M348.86 395.80 V399.70" stroke="#888888" stroke-width="1.00"/>
<text x="343.51" y="410.90" font-size="8.47" fill="#262626" textLength="10.70" lengthAdjust="spacingAndGlyphs">0.4</text>
<path d="M225.70 337.27 L228.77 336.61 L231.83 335.95 L234.90 335.27 L237.96 334.59 L241.03 333.89 L244.09 333.17 L247.16 332.44 L250.22 331.68 L253.29 330.91 L256.35 330.10 L259.42 329.26 L262.48 328.39 L265.55 327.47 L268.61 326.50 L271.68 325.46 L274.74 324.37 L277.81 323.19 L280.87 321.92 L283.94 320.56 L287.00 319.09 L290.07 317.50 L293.13 315.80 L296.20 313.99 L299.26 312.06 L302.33 310.03 L305.39 307.91 L308.46 305.70 L311.52 303.42 L314.59 301.07 L317.65 298.67 L320.72 296.22 L323.79 293.72 L326.85 291.20 L329.92 288.64 L332.98 286.05 L336.05 283.44 L339.11 280.82 L342.18 278.17 L345.24 275.51 L348.00 273.11" stroke="#1a1a9c" stroke-width="1.27" fill="none" stroke-dasharray="4.28 3.88"/>
<path d="M225.70 390.13 L228.77 387.43 L231.83 384.74 L234.90 382.06 L237.96 379.39 L241.03 376.74 L244.09 374.10 L247.16 371.48 L250.22 368.88 L253.29 366.31 L256.35 363.76 L259.42 361.25 L262.48 358.77 L265.55 356.34 L268.61 353.95 L271.68 351.63 L274.74 349.38 L277.81 347.20 L280.87 345.11 L283.94 343.13 L287.00 341.24 L290.07 339.47 L293.13 337.82 L296.20 336.28 L299.26 334.85 L302.33 333.53 L305.39 332.30 L308.46 331.15 L311.52 330.08 L314.59 329.08 L317.65 328.13 L320.72 327.23 L323.79 326.37 L326.85 325.54 L329.92 324.75 L332.98 323.98 L336.05 323.23 L339.11 322.51 L342.18 321.80 L345.24 321.10 L348.00 320.49" stroke="#1a1a9c" stroke-width="1.27" fill="none" stroke-dasharray="4.28 3.88"/>
<path d="M225.70 302.76 L227.97 301.84 L230.25 300.91 L232.52 299.98 L234.79 299.03 L237.07 298.07 L239.34 297.10 L241.61 296.12 L243.89 295.13 L246.16 294.13 L248.43 293.12 L250.71 292.09 L252.98 291.06 L255.25 290.01 L257.52 288.96 L259.80 287.89 L262.07 286.81 L264.34 285.71 L266.62 284.61 L268.89 283.49 L271.16 282.36 L273.44 281.22 L275.71 280.07 L277.98 278.90 L280.26 277.72 L282.53 276.53 L284.80 275.33 L287.08 274.11 L289.35 272.89 L291.62 271.64 L293.90 270.39 L296.17 269.13 L298.44 267.85 L300.72 266.56 L302.99 265.25 L305.26 263.94 L307.53 262.61 L309.81 261.27 L312.08 259.92 L314.35 258.55 L316.40 257.32" stroke="#187418" stroke-width="1.33" fill="none" stroke-dasharray="6.94 3.26"/>
<path d="M284.80 387.41 L286.38 386.52 L287.97 385.64 L289.55 384.77 L291.14 383.90 L292.72 383.03 L294.30 382.18 L295.89 381.33 L297.47 380.48 L299.06 379.64 L300.64 378.81 L302.22 377.98 L303.81 377.16 L305.39 376.35 L306.98 375.54 L308.56 374.74 L310.14 373.94 L311.73 373.15 L313.31 372.37 L314.90 371.59 L316.48 370.82 L318.06 370.05 L319.65 369.29 L321.23 368.53 L322.82 367.78 L324.40 367.04 L325.98 366.30 L327.57 365.57 L329.15 364.84 L330.73 364.12 L332.32 363.40 L333.90 362.69 L335.49 361.99 L337.07 361.29 L338.65 360.59 L340.24 359.90 L341.82 359.22 L343.41 358.54 L344.99 357.86 L346.57 357.20 L348.00 356.60" stroke="#187418" stroke-width="1.33" fill="none" stroke-dasharray="6.94 3.26"/>
<path d="M223.50 364.90 L348.00 296.80" stroke="#2a2a2a" stroke-width="1.07"/>
<circle cx="225.70" cy="348.70" r="1.65" fill="#cbcbcb" stroke="#707070" stroke-width="0.92"/>
<circle cx="250.80" cy="334.90" r="1.65" fill="#cbcbcb" stroke="#707070" stroke-width="0.92"/>
<circle cx="263.00" cy="334.90" r="1.65" fill="#cbcbcb" stroke="#707070" stroke-width="0.92"/>
<circle cx="256.00" cy="348.60" r="1.65" fill="#cbcbcb" stroke="#707070" stroke-width="0.92"/>
<circle cx="256.60" cy="362.10" r="1.65" fill="#cbcbcb" stroke="#707070" stroke-width="0.92"/>
<circle cx="264.50" cy="362.10" r="1.65" fill="#cbcbcb" stroke="#707070" stroke-width="0.92"/>
<circle cx="278.70" cy="355.30" r="1.65" fill="#cbcbcb" stroke="#707070" stroke-width="0.92"/>
<circle cx="264.10" cy="375.50" r="1.65" fill="#cbcbcb" stroke="#707070" stroke-width="0.92"/>
<circle cx="270.70" cy="389.10" r="1.65" fill="#cbcbcb" stroke="#707070" stroke-width="0.92"/>
<circle cx="277.80" cy="267.30" r="1.65" fill="#cbcbcb" stroke="#707070" stroke-width="0.92"/>
<circle cx="277.80" cy="294.40" r="1.65" fill="#cbcbcb" stroke="#707070" stroke-width="0.92"/>
<circle cx="285.20" cy="307.90" r="1.65" fill="#cbcbcb" stroke="#707070" stroke-width="0.92"/>
<circle cx="297.00" cy="321.50" r="1.65" fill="#cbcbcb" stroke="#707070" stroke-width="0.92"/>
<circle cx="297.20" cy="341.80" r="1.65" fill="#cbcbcb" stroke="#707070" stroke-width="0.92"/>
<circle cx="303.80" cy="314.70" r="1.65" fill="#cbcbcb" stroke="#707070" stroke-width="0.92"/>
<circle cx="306.20" cy="314.70" r="1.65" fill="#cbcbcb" stroke="#707070" stroke-width="0.92"/>
<circle cx="307.00" cy="341.80" r="1.65" fill="#cbcbcb" stroke="#707070" stroke-width="0.92"/>
<circle cx="311.80" cy="274.20" r="1.65" fill="#cbcbcb" stroke="#707070" stroke-width="0.92"/>
<circle cx="312.00" cy="328.10" r="1.65" fill="#cbcbcb" stroke="#707070" stroke-width="0.92"/>
<circle cx="310.40" cy="334.90" r="1.65" fill="#cbcbcb" stroke="#707070" stroke-width="0.92"/>
<circle cx="316.00" cy="294.40" r="1.65" fill="#cbcbcb" stroke="#707070" stroke-width="0.92"/>
<circle cx="327.70" cy="314.70" r="1.65" fill="#cbcbcb" stroke="#707070" stroke-width="0.92"/>
<circle cx="333.00" cy="287.80" r="1.65" fill="#cbcbcb" stroke="#707070" stroke-width="0.92"/>
<circle cx="333.80" cy="321.50" r="1.65" fill="#cbcbcb" stroke="#707070" stroke-width="0.92"/>
<circle cx="348.00" cy="308.00" r="1.65" fill="#cbcbcb" stroke="#707070" stroke-width="0.92"/>
<text x="221.80" y="253.60" font-size="11.60" font-weight="bold" fill="#111" stroke="#111" stroke-width="0.35" textLength="41.60" lengthAdjust="spacingAndGlyphs">T = 0.39;</text>
<text x="266.70" y="253.60" font-size="9.80" font-weight="bold" fill="#111" stroke="#111" stroke-width="0.3" textLength="59.60" lengthAdjust="spacingAndGlyphs">p-FDR = 0.042</text>
<text transform="translate(196.80 343.20) rotate(-90)" font-size="10.70" font-weight="bold" fill="#111" stroke="#111" stroke-width="0.3" textLength="21.50" lengthAdjust="spacingAndGlyphs">WPI</text>
<text x="226.50" y="433.10" font-size="11.30" font-weight="bold" fill="#111" stroke="#111" stroke-width="0.3" textLength="104.90" lengthAdjust="spacingAndGlyphs">DefaultMode.MPFC –</text>
<text x="238.00" y="448.30" font-size="11.30" font-weight="bold" fill="#111" stroke="#111" stroke-width="0.3" textLength="83.20" lengthAdjust="spacingAndGlyphs">Salience.RPFC (R)</text>
<path d="M397.30 251.00 V397.85" stroke="#c4c4c4" stroke-width="1.00" fill="none"/>
<path d="M394.20 251.00 H397.30" stroke="#888888" stroke-width="1.00"/>
<text x="385.28" y="253.50" font-size="7.04" fill="#262626" textLength="7.12" lengthAdjust="spacingAndGlyphs">20</text>
<path d="M394.20 299.95 H397.30" stroke="#888888" stroke-width="1.00"/>
<text x="385.28" y="302.45" font-size="7.04" fill="#262626" textLength="7.12" lengthAdjust="spacingAndGlyphs">15</text>
<path d="M394.20 348.90 H397.30" stroke="#888888" stroke-width="1.00"/>
<text x="385.28" y="351.40" font-size="7.04" fill="#262626" textLength="7.12" lengthAdjust="spacingAndGlyphs">10</text>
<path d="M394.20 397.85 H397.30" stroke="#888888" stroke-width="1.00"/>
<text x="388.84" y="400.35" font-size="7.04" fill="#262626" textLength="3.56" lengthAdjust="spacingAndGlyphs">5</text>
<path d="M404.10 404.60 H523.45" stroke="#c4c4c4" stroke-width="1.00" fill="none"/>
<path d="M404.10 404.60 V407.90" stroke="#888888" stroke-width="1.00"/>
<text x="398.59" y="417.30" font-size="7.04" fill="#262626" textLength="11.03" lengthAdjust="spacingAndGlyphs">-0.2</text>
<path d="M421.15 404.60 V407.90" stroke="#888888" stroke-width="1.00"/>
<text x="415.64" y="417.30" font-size="7.04" fill="#262626" textLength="11.03" lengthAdjust="spacingAndGlyphs">-0.1</text>
<path d="M438.20 404.60 V407.90" stroke="#888888" stroke-width="1.00"/>
<text x="433.75" y="417.30" font-size="7.04" fill="#262626" textLength="8.90" lengthAdjust="spacingAndGlyphs">0.0</text>
<path d="M455.25 404.60 V407.90" stroke="#888888" stroke-width="1.00"/>
<text x="450.80" y="417.30" font-size="7.04" fill="#262626" textLength="8.90" lengthAdjust="spacingAndGlyphs">0.1</text>
<path d="M472.30 404.60 V407.90" stroke="#888888" stroke-width="1.00"/>
<text x="467.85" y="417.30" font-size="7.04" fill="#262626" textLength="8.90" lengthAdjust="spacingAndGlyphs">0.2</text>
<path d="M489.35 404.60 V407.90" stroke="#888888" stroke-width="1.00"/>
<text x="484.90" y="417.30" font-size="7.04" fill="#262626" textLength="8.90" lengthAdjust="spacingAndGlyphs">0.3</text>
<path d="M506.40 404.60 V407.90" stroke="#888888" stroke-width="1.00"/>
<text x="501.95" y="417.30" font-size="7.04" fill="#262626" textLength="8.90" lengthAdjust="spacingAndGlyphs">0.4</text>
<path d="M523.45 404.60 V407.90" stroke="#888888" stroke-width="1.00"/>
<text x="519.00" y="417.30" font-size="7.04" fill="#262626" textLength="8.90" lengthAdjust="spacingAndGlyphs">0.5</text>
<path d="M404.90 346.13 L407.79 345.08 L410.68 344.01 L413.57 342.92 L416.46 341.82 L419.35 340.69 L422.24 339.54 L425.13 338.36 L428.02 337.15 L430.91 335.90 L433.80 334.61 L436.69 333.26 L439.58 331.86 L442.47 330.39 L445.36 328.84 L448.25 327.21 L451.14 325.48 L454.03 323.65 L456.92 321.71 L459.80 319.66 L462.69 317.50 L465.58 315.23 L468.47 312.87 L471.36 310.41 L474.25 307.86 L477.14 305.24 L480.03 302.55 L482.92 299.81 L485.81 297.01 L488.70 294.17 L491.59 291.30 L494.48 288.39 L497.37 285.45 L500.26 282.49 L503.15 279.51 L506.04 276.51 L508.93 273.49 L511.82 270.46 L514.71 267.42 L517.60 264.37 L520.20 261.61" stroke="#1a1a9c" stroke-width="1.05" fill="none" stroke-dasharray="3.53 3.19"/>
<path d="M404.90 394.07 L407.79 391.04 L410.68 388.03 L413.57 385.03 L416.46 382.05 L419.35 379.09 L422.24 376.16 L425.13 373.25 L428.02 370.38 L430.91 367.55 L433.80 364.76 L436.69 362.02 L439.58 359.34 L442.47 356.73 L445.36 354.19 L448.25 351.74 L451.14 349.39 L454.03 347.13 L456.92 344.99 L459.80 342.95 L462.69 341.03 L465.58 339.21 L468.47 337.49 L471.36 335.87 L474.25 334.33 L477.14 332.87 L480.03 331.47 L482.92 330.13 L485.81 328.85 L488.70 327.60 L491.59 326.39 L494.48 325.22 L497.37 324.07 L500.26 322.95 L503.15 321.85 L506.04 320.76 L508.93 319.70 L511.82 318.64 L514.71 317.60 L517.60 316.57 L520.20 315.66" stroke="#1a1a9c" stroke-width="1.05" fill="none" stroke-dasharray="3.53 3.19"/>
<path d="M404.90 307.21 L406.93 306.04 L408.97 304.85 L411.00 303.66 L413.03 302.46 L415.06 301.25 L417.10 300.03 L419.13 298.80 L421.16 297.56 L423.19 296.31 L425.23 295.04 L427.26 293.77 L429.29 292.49 L431.32 291.20 L433.36 289.90 L435.39 288.59 L437.42 287.27 L439.45 285.94 L441.49 284.59 L443.52 283.24 L445.55 281.88 L447.58 280.50 L449.62 279.12 L451.65 277.72 L453.68 276.31 L455.71 274.89 L457.75 273.47 L459.78 272.03 L461.81 270.58 L463.84 269.12 L465.88 267.64 L467.91 266.16 L469.94 264.67 L471.98 263.17 L474.01 261.65 L476.04 260.13 L478.07 258.59 L480.11 257.05 L482.14 255.49 L484.17 253.92 L486.00 252.50" stroke="#187418" stroke-width="1.09" fill="none" stroke-dasharray="5.71 2.69"/>
<path d="M449.60 397.90 L451.37 396.62 L453.14 395.34 L454.91 394.07 L456.68 392.81 L458.45 391.56 L460.22 390.31 L461.99 389.08 L463.76 387.85 L465.52 386.63 L467.29 385.41 L469.06 384.21 L470.83 383.01 L472.60 381.83 L474.37 380.65 L476.14 379.47 L477.91 378.31 L479.68 377.15 L481.45 376.01 L483.22 374.87 L484.99 373.73 L486.76 372.61 L488.53 371.49 L490.30 370.38 L492.07 369.28 L493.84 368.19 L495.61 367.10 L497.37 366.02 L499.14 364.95 L500.91 363.89 L502.68 362.83 L504.45 361.78 L506.22 360.74 L507.99 359.70 L509.76 358.68 L511.53 357.65 L513.30 356.64 L515.07 355.63 L516.84 354.63 L518.61 353.64 L520.20 352.75" stroke="#187418" stroke-width="1.09" fill="none" stroke-dasharray="5.71 2.69"/>
<path d="M404.90 370.10 L523.50 286.30" stroke="#2a2a2a" stroke-width="0.88"/>
<circle cx="404.90" cy="338.90" r="1.36" fill="#cbcbcb" stroke="#707070" stroke-width="0.76"/>
<circle cx="423.00" cy="368.30" r="1.36" fill="#cbcbcb" stroke="#707070" stroke-width="0.76"/>
<circle cx="420.30" cy="378.20" r="1.36" fill="#cbcbcb" stroke="#707070" stroke-width="0.76"/>
<circle cx="406.20" cy="397.90" r="1.36" fill="#cbcbcb" stroke="#707070" stroke-width="0.76"/>
<circle cx="431.90" cy="348.80" r="1.36" fill="#cbcbcb" stroke="#707070" stroke-width="0.76"/>
<circle cx="440.00" cy="339.00" r="1.36" fill="#cbcbcb" stroke="#707070" stroke-width="0.76"/>
<circle cx="443.00" cy="339.00" r="1.36" fill="#cbcbcb" stroke="#707070" stroke-width="0.76"/>
<circle cx="444.10" cy="319.40" r="1.36" fill="#cbcbcb" stroke="#707070" stroke-width="0.76"/>
<circle cx="447.00" cy="319.40" r="1.36" fill="#cbcbcb" stroke="#707070" stroke-width="0.76"/>
<circle cx="447.40" cy="290.10" r="1.36" fill="#cbcbcb" stroke="#707070" stroke-width="0.76"/>
<circle cx="455.70" cy="339.00" r="1.36" fill="#cbcbcb" stroke="#707070" stroke-width="0.76"/>
<circle cx="456.50" cy="348.80" r="1.36" fill="#cbcbcb" stroke="#707070" stroke-width="0.76"/>
<circle cx="459.30" cy="358.70" r="1.36" fill="#cbcbcb" stroke="#707070" stroke-width="0.76"/>
<circle cx="456.10" cy="319.40" r="1.36" fill="#cbcbcb" stroke="#707070" stroke-width="0.76"/>
<circle cx="462.60" cy="319.40" r="1.36" fill="#cbcbcb" stroke="#707070" stroke-width="0.76"/>
<circle cx="469.10" cy="270.50" r="1.36" fill="#cbcbcb" stroke="#707070" stroke-width="0.76"/>
<circle cx="475.70" cy="319.40" r="1.36" fill="#cbcbcb" stroke="#707070" stroke-width="0.76"/>
<circle cx="477.80" cy="329.20" r="1.36" fill="#cbcbcb" stroke="#707070" stroke-width="0.76"/>
<circle cx="474.60" cy="339.00" r="1.36" fill="#cbcbcb" stroke="#707070" stroke-width="0.76"/>
<circle cx="482.20" cy="339.00" r="1.36" fill="#cbcbcb" stroke="#707070" stroke-width="0.76"/>
<circle cx="485.40" cy="309.70" r="1.36" fill="#cbcbcb" stroke="#707070" stroke-width="0.76"/>
<circle cx="508.70" cy="339.00" r="1.36" fill="#cbcbcb" stroke="#707070" stroke-width="0.76"/>
<circle cx="513.30" cy="251.00" r="1.36" fill="#cbcbcb" stroke="#707070" stroke-width="0.76"/>
<circle cx="520.20" cy="290.10" r="1.36" fill="#cbcbcb" stroke="#707070" stroke-width="0.76"/>
<circle cx="449.60" cy="397.90" r="1.36" fill="#cbcbcb" stroke="#707070" stroke-width="0.76"/>
<text x="402.30" y="248.50" font-size="11.60" font-weight="bold" fill="#111" stroke="#111" stroke-width="0.35" textLength="41.80" lengthAdjust="spacingAndGlyphs">T = 0.44;</text>
<text x="446.60" y="248.50" font-size="9.80" font-weight="bold" fill="#111" stroke="#111" stroke-width="0.3" textLength="60.30" lengthAdjust="spacingAndGlyphs">p-FDR = 0.024</text>
<text transform="translate(377.70 346.70) rotate(-90)" font-size="11.00" font-weight="bold" fill="#111" stroke="#111" stroke-width="0.3" textLength="24.60" lengthAdjust="spacingAndGlyphs">PSQI</text>
<text x="407.80" y="434.80" font-size="11.30" font-weight="bold" fill="#111" stroke="#111" stroke-width="0.3" textLength="104.90" lengthAdjust="spacingAndGlyphs">DefaultMode.MPFC –</text>
<text x="409.60" y="449.30" font-size="11.30" font-weight="bold" fill="#111" stroke="#111" stroke-width="0.3" textLength="99.30" lengthAdjust="spacingAndGlyphs">Cerebellar.Posterior</text>
</svg></body></html>
